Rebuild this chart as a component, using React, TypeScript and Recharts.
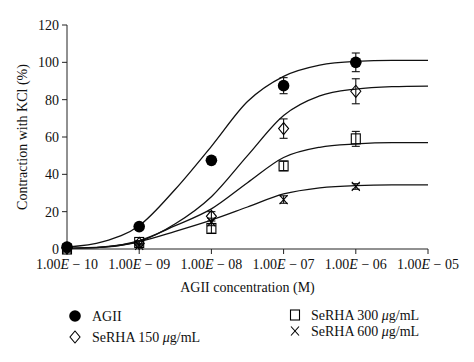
import React from "react";
import {
    ComposedChart, Line, Scatter, ErrorBar,
    XAxis, YAxis, Label
} from "recharts";

const FONT = "'Liberation Serif', 'DejaVu Serif', serif";

// log10 of AGII concentration (M)
const doseLog = [-10, -9, -8, -7, -6];

// measured points (% of KCl contraction) and SEM
const agiiMean = [1, 12, 47.5, 87.5, 100];
const agiiErr = [0, 0, 0, 4.3, 5];
const s150Mean = [0.5, 3, 17.5, 64.5, 84.5];
const s150Err = [0, 1, 2.5, 5.2, 6.7];
const s300Mean = [0, 3.5, 11, 44.5, 59];
const s300Err = [0, 1, 2.5, 2.5, 4];
const s600Mean = [0, 2, 14.5, 26.5, 33.5];
const s600Err = [0, 1, 2, 2, 1.5];

// fitted curves
const curveX = [-10, -9.5, -9, -8.5, -8, -7.5, -7, -6.5, -6, -5.5, -5];
const agiiCurve = [1, 3.9, 12.5, 32, 55, 79, 92.5, 98.5, 100.5, 101, 101];
const s150Curve = [0.3, 1, 4, 13.5, 28, 50, 71.5, 82, 85.7, 87, 87.3];
const s300Curve = [0.3, 1.1, 4.5, 12.5, 21.5, 35.5, 49, 54.5, 56.3, 57, 57];
const s600Curve = [0.3, 1, 4, 9.5, 15.5, 22.5, 29.5, 32.8, 34, 34.3, 34.3];

const xTicks = [-10, -9, -8, -7, -6, -5];
const yTicks = [0, 20, 40, 60, 80, 100, 120];

const curveData = curveX.map((x, i) => ({
    x,
    agii: agiiCurve[i],
    s150: s150Curve[i],
    s300: s300Curve[i],
    s600: s600Curve[i],
}));

const points = (mean: number[], err: number[]) =>
    doseLog.map((x, i) => ({ x, y: mean[i], err: err[i] }));

const Dot = ({ cx, cy }: any) => <circle cx={cx} cy={cy} r={5.8} fill="#000" />;
const Diamond = ({ cx, cy }: any) => (
    <path d={`M${cx},${cy - 6}L${cx + 5},${cy}L${cx},${cy + 6}L${cx - 5},${cy}Z`} fill="none" stroke="#000" strokeWidth={1.1} />
);
const Square = ({ cx, cy }: any) => (
    <rect x={cx - 4.5} y={cy - 5} width={9} height={10} fill="none" stroke="#000" strokeWidth={1.1} />
);
const Cross = ({ cx, cy }: any) => (
    <g stroke="#000" strokeWidth={1.1}>
        <line x1={cx - 4} y1={cy - 4.5} x2={cx + 4} y2={cy + 4.5} />
        <line x1={cx + 4} y1={cy - 4.5} x2={cx - 4} y2={cy + 4.5} />
    </g>
);

function XTick({ x, y, payload }: any) {
    const exp = String(-payload.value).padStart(2, "0");
    return (
        <text x={x} y={y} dy={13} textAnchor="middle" fontFamily={FONT} fontSize={14} fill="#111">
            <tspan>1.00</tspan>
            <tspan fontStyle="italic">E</tspan>
            <tspan>{` \u2212 ${exp}`}</tspan>
        </text>
    );
}

function LegendOverlay() {
    const txt = { fontFamily: FONT, fontSize: 14, fill: "#111" };
    return (
        <svg width={474} height={362} style={{ position: "absolute", left: 0, top: 0, pointerEvents: "none" }}>
            <Dot cx={75} cy={316} />
            <text x={92} y={320.5} {...txt}>AGII</text>
            <Diamond cx={75} cy={337} />
            <text x={92} y={341.5} {...txt}>SeRHA 150 <tspan fontStyle="italic">μ</tspan>g/mL</text>
            <Square cx={295} cy={315} />
            <text x={311} y={319.5} {...txt}>SeRHA 300 <tspan fontStyle="italic">μ</tspan>g/mL</text>
            <Cross cx={295} cy={331} />
            <text x={311} y={335.5} {...txt}>SeRHA 600 <tspan fontStyle="italic">μ</tspan>g/mL</text>
        </svg>
    );
}

export default function App() {
    const tickStyle = { fontFamily: FONT, fontSize: 14, fill: "#111" };
    const series = [
        { key: "agii", mean: agiiMean, err: agiiErr, shape: Dot },
        { key: "s150", mean: s150Mean, err: s150Err, shape: Diamond },
        { key: "s300", mean: s300Mean, err: s300Err, shape: Square },
        { key: "s600", mean: s600Mean, err: s600Err, shape: Cross },
    ];
    return (
        <div style={{ position: "absolute", left: 0, top: 0, width: 474, height: 362, background: "#fff" }}>
            <ComposedChart width={474} height={362} data={curveData} margin={{ top: 25, right: 46, bottom: 83, left: 0 }}>
                <XAxis
                    dataKey="x"
                    type="number"
                    domain={[-10, -5]}
                    ticks={xTicks}
                    tick={<XTick />}
                    tickSize={5}
                    stroke="#222"
                    height={30}
                    interval={0}
                >
                    <Label value="AGII concentration (M)" position="bottom" offset={3} style={{ fontFamily: FONT, fontSize: 14, fill: "#111" }} />
                </XAxis>
                <YAxis
                    type="number"
                    domain={[0, 120]}
                    ticks={yTicks}
                    tick={tickStyle}
                    tickSize={5}
                    tickMargin={3}
                    stroke="#222"
                    width={67}
                    interval={0}
                >
                    <Label value="Contraction with KCl (%)" angle={-90} position="insideLeft" offset={22}
                        style={{ fontFamily: FONT, fontSize: 14, fill: "#111", textAnchor: "middle" }} />
                </YAxis>
                {series.map((s) => (
                    <Line key={`l-${s.key}`} dataKey={s.key} type="monotone" stroke="#111" strokeWidth={1.3}
                        dot={false} activeDot={false} isAnimationActive={false} />
                ))}
                {series.map((s) => (
                    <Scatter key={`p-${s.key}`} data={points(s.mean, s.err)} dataKey="y" shape={s.shape} isAnimationActive={false}>
                        <ErrorBar dataKey="err" direction="y" width={4} stroke="#111" strokeWidth={1.1} isAnimationActive={false} />
                    </Scatter>
                ))}
            </ComposedChart>
            <LegendOverlay />
        </div>
    );
}
